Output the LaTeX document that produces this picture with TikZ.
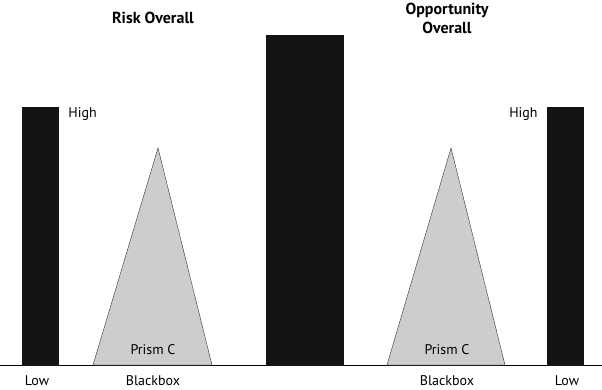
\documentclass[tikz,border=0pt]{standalone}
\usepackage{fontspec}
\setmainfont{PT Sans}
\usetikzlibrary{positioning}
\definecolor{barblack}{HTML}{141414}
\definecolor{prismgray}{HTML}{CDCDCD}
\tikzset{
    x=1pt, y=-1pt, % pixel-like coordinates, origin top left
    bar/.style={ % black columns standing on the axis
        draw=barblack,
        fill=barblack,
        anchor=south,
        inner sep=0pt
    },
    prism/.style={ % grey triangles
        draw=black!80,
        fill=prismgray,
        thin
    },
    label/.style={font=\fontsize{14}{16}\selectfont, inner sep=1pt},
    heading/.style={font=\bfseries\fontsize{16}{19}\selectfont, align=center, inner sep=1pt}
}
\begin{document}
\begin{tikzpicture}
    \useasboundingbox (0,0) rectangle (602,389);
    % axis
    \coordinate (axisL) at (0,365);
    \coordinate (axisR) at (602,365);
    \draw[thin] (axisL) -- (axisR);
    % columns
    \node[bar, minimum width=36, minimum height=258] (barL) at (40,365) {};
    \node[bar, minimum width=77, minimum height=330] (barM) at (305,365) {};
    \node[bar, minimum width=36, minimum height=258] (barR) at (565,365) {};
    % prisms
    \coordinate (topA) at (158,148);
    \coordinate (leftA) at (93,365);
    \coordinate (rightA) at (212,365);
    \coordinate (topB) at (451,148);
    \coordinate (leftB) at (387,365);
    \coordinate (rightB) at (505,365);
    \draw[prism] (leftA) -- (topA) -- (rightA) -- cycle;
    \draw[prism] (leftB) -- (topB) -- (rightB) -- cycle;
    % texts
    \node[heading] (riskTitle) at (153,18) {Risk Overall};
    \node[heading] (oppTitle) at (447,18) {Opportunity\\Overall};
    \node[label, right=9 of barL.north east, anchor=north west] (highL) {High};
    \node[label, left=8 of barR.north west, anchor=north east] (highR) {High};
    \node[label] (prismA) at (153,350) {Prism C};
    \node[label] (prismB) at (447,350) {Prism C};
    \node[label, anchor=base] (lowL) at (37,385) {Low};
    \node[label, anchor=base] (boxA) at (153,385) {Blackbox};
    \node[label, anchor=base] (boxB) at (447,385) {Blackbox};
    \node[label, anchor=base] (lowR) at (567,385) {Low};
\end{tikzpicture}
\end{document}
